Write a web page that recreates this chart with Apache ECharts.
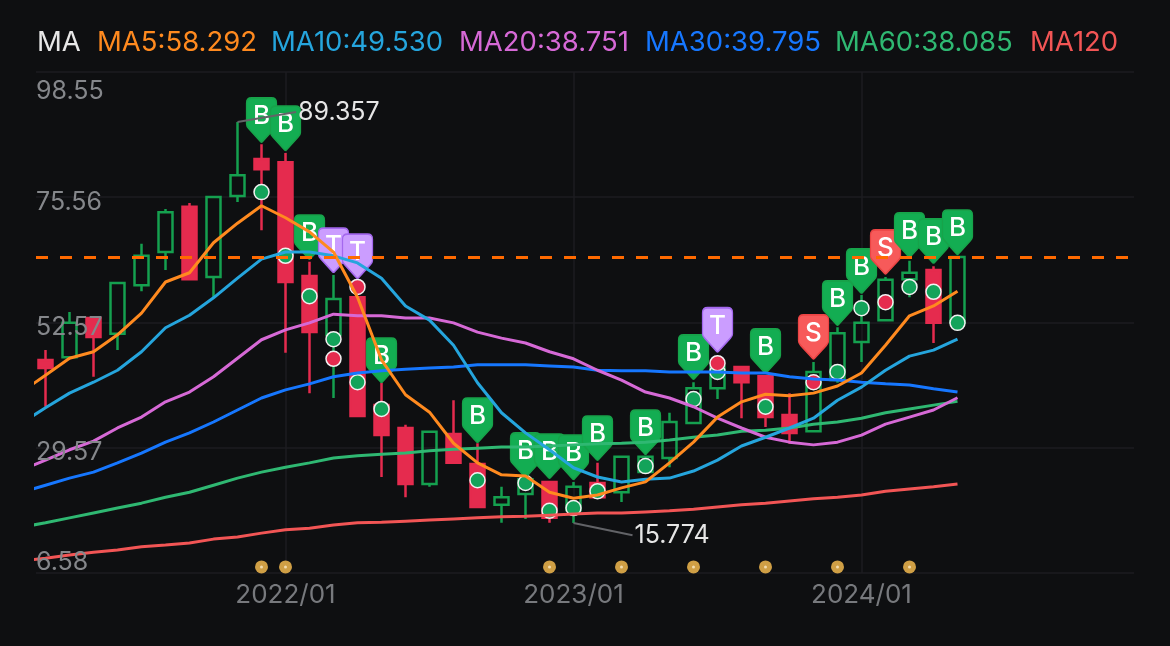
<!DOCTYPE html>
<html>
<head>
<meta charset="utf-8">
<style>
html, body { margin: 0; padding: 0; background: #0e0f11; }
#main { width: 1170px; height: 646px; }
</style>
<script src="https://cdn.jsdelivr.net/npm/echarts@6/dist/echarts.min.js"></script>
</head>
<body>
<div id="main"></div>
<script>
var months = ['2021/02','2021/03','2021/04','2021/05','2021/06','2021/07','2021/08','2021/09','2021/10','2021/11','2021/12',
	'2022/01','2022/02','2022/03','2022/04','2022/05','2022/06','2022/07','2022/08','2022/09','2022/10','2022/11','2022/12',
	'2023/01','2023/02','2023/03','2023/04','2023/05','2023/06','2023/07','2023/08','2023/09','2023/10','2023/11','2023/12',
	'2024/01','2024/02','2024/03','2024/04','2024/05'];
var xTicks = ['2022/01', '2023/01', '2024/01'];
var yTicks = [6.58, 29.57, 52.57, 75.56, 98.55];

// candles start at 2021/03
var opens = [45.7,46.2,53.4,50.5,59.4,65.5,73.8,60.9,75.8,82.6,82.0,61.1,50.3,57.2,37.4,33.2,22.9,32.1,26.6,19.1,21.1,23.3,18.1,23.1,21.4,25.1,27.7,34.1,40.5,44.4,42.7,35.6,32.6,42.0,49.0,53.0,60.5,62.2,52.5];
var closes = [44.2,52.5,49.9,59.8,64.8,72.8,60.5,75.6,79.6,80.7,60.0,50.8,56.9,35.4,31.9,22.9,32.5,26.8,18.7,20.5,23.8,16.7,22.4,20.5,27.9,27.9,34.3,40.5,44.4,41.6,35.2,32.3,43.5,50.6,52.5,60.4,61.7,52.5,64.6];
var lows = [37.1,46.0,42.6,47.5,58.3,62.2,60.5,57.1,74.7,69.5,47.0,39.6,38.7,35.4,24.2,20.5,22.4,26.8,18.7,15.8,16.5,15.8,15.774,20.5,19.6,25.1,26.0,34.1,38.5,35.0,33.4,30.3,32.6,41.5,45.3,53.0,57.2,48.8,52.5];
var highs = [47.5,54.5,53.4,60.0,67.0,73.4,74.5,75.6,89.357,85.3,83.7,63.7,61.3,57.2,41.5,33.8,32.5,38.3,30.4,22.4,24.2,23.3,23.3,26.8,27.9,27.9,36.0,41.6,44.4,44.6,42.7,39.6,45.3,51.7,57.6,60.9,63.9,62.9,64.6];

var ma5 = [39.8,42.9,46.0,47.2,50.3,54.3,60.0,61.7,67.2,70.8,74.0,71.8,69.2,65.5,57.2,45.7,39.3,36.1,30.4,26.8,24.6,24.4,21.4,20.3,20.9,22.2,23.3,26.8,30.6,35.2,38.0,39.4,39.1,39.6,40.9,43.3,48.4,53.8,55.6,58.292];
var ma10 = [34.1,36.9,39.6,41.6,43.8,47.2,51.6,53.9,57.1,60.7,64.2,65.5,65.5,64.8,63.5,60.7,55.6,53.0,48.4,41.5,36.0,32.3,29.2,25.9,24.2,23.3,23.8,24.0,25.3,27.3,29.9,31.5,33.2,35.0,38.3,40.7,43.8,46.4,47.5,49.53];
var ma20 = [25.5,27.3,29.2,30.8,33.2,35.2,38.0,39.8,42.6,46.0,49.4,51.2,52.5,54.1,53.8,53.8,53.4,53.4,52.5,50.8,49.7,48.8,47.2,45.9,43.8,42.0,39.8,38.7,37.1,35.0,33.2,31.5,30.6,30.1,30.6,31.9,33.9,35.2,36.5,38.751];
var ma30 = [21.4,22.7,24.0,25.1,26.8,28.6,30.6,32.3,34.3,36.5,38.7,40.2,41.3,42.6,43.3,43.7,44.0,44.2,44.4,44.8,44.8,44.8,44.6,44.4,43.8,43.7,43.7,43.5,43.5,43.5,43.3,43.3,42.6,42.2,42.0,41.6,41.3,41.1,40.4,39.795];
var ma60 = [15.0,15.8,16.7,17.6,18.5,19.4,20.5,21.4,22.7,24.0,25.1,26.0,26.8,27.7,28.1,28.4,28.6,29.0,29.3,29.5,29.7,29.7,29.9,30.1,30.3,30.4,30.6,31.0,31.5,31.9,32.6,32.8,33.2,33.9,34.3,35.0,36.0,36.7,37.4,38.085];
var ma120 = [8.8,9.3,9.9,10.4,10.8,11.4,11.7,12.1,12.8,13.2,13.9,14.5,14.8,15.4,15.8,15.9,16.1,16.3,16.5,16.7,16.9,17.0,17.2,17.4,17.6,17.6,17.8,18.0,18.3,18.7,19.1,19.4,19.8,20.2,20.5,20.9,21.6,22.0,22.4,22.9];

var legendNames = ['MA', 'MA5:58.292', 'MA10:49.530', 'MA20:38.751', 'MA30:39.795', 'MA60:38.085', 'MA120'];
var lastPrice = 64.6;

var pinMonths = ['2021/12','2022/01','2022/02','2022/03','2022/04','2022/05','2022/09','2022/11','2022/12','2023/01','2023/02','2023/04','2023/06','2023/07','2023/09','2023/11','2023/12','2024/01','2024/02','2024/03','2024/04','2024/05'];
var pinLetters = ['B','B','B','T','T','B','B','B','B','B','B','B','B','T','B','S','B','B','S','B','B','B'];
var pinValues = [85.7,84.2,64.2,61.8,60.7,41.6,30.6,24.2,24.0,23.8,27.3,28.4,42.2,47.2,43.3,45.9,52.1,58.0,61.5,64.6,63.5,65.1];

var dotMonths = ['2021/12','2022/01','2022/02','2022/03','2022/03','2022/04','2022/04','2022/05','2022/09','2022/11','2022/12','2023/01','2023/02','2023/04','2023/06','2023/07','2023/07','2023/09','2023/11','2023/12','2024/01','2024/02','2024/03','2024/04','2024/05'];
var dotValues = [76.5,64.8,57.4,49.5,45.9,59.1,41.6,36.7,23.6,23.1,18.0,18.5,21.6,26.2,38.5,43.5,45.1,37.1,41.6,43.5,55.2,56.3,59.1,58.2,52.5];
var dotSides = ['b','b','b','b','s','s','b','b','b','b','b','b','b','b','b','b','s','b','s','b','b','s','b','b','b'];

var coinMonths = ['2021/12','2022/01','2022/12','2023/03','2023/06','2023/09','2023/12','2024/03'];
var coinValue = 7.7;

var UP = '#15a04f', DOWN = '#e52b4e';
var pinColors = {
	B : { fill : '#13ad52', border : '#17a34a' },
	T : { fill : '#cb9dff', border : '#a468ee' },
	S : { fill : '#f75a5a', border : '#ec4444' }
};
var lineColors = ['#ff8a1f', '#25a5dd', '#d669d6', '#1677ff', '#2fb872', '#f25555'];
var legendColors = ['#e8e8e8', '#ff8a1f', '#25a5dd', '#d669d6', '#1677ff', '#2fb872', '#f25555'];
var legendLefts = [37, 97, 271, 459, 645, 835, 1030];
var PIN = 'path://M5 0H25Q30 0 30 5V26Q30 28 28 30L16 43Q15 44 14 43L2 30Q0 28 0 26V5Q0 0 5 0Z';

function xOf(m) {
	return months.indexOf(m);
}

function maSeries(name, values, color) {
	return {
		name : name,
		type : 'line',
		symbol : 'none',
		silent : true,
		lineStyle : { width : 3, color : color },
		data : values.map(function(v, i) {
			return [i, v];
		})
	};
}

function calloutSeries(from, to, text) {
	return {
		type : 'line',
		symbol : 'none',
		silent : true,
		lineStyle : { width : 2, color : '#626367' },
		endLabel : {
			show : true,
			formatter : text,
			color : '#e6e6e6',
			fontFamily : 'Inter',
			fontSize : 25,
			distance : 2
		},
		data : [from, to]
	};
}

function yLabelStyle(padding) {
	return { color : '#85878b', fontFamily : 'Inter', fontSize : 25, padding : padding };
}

var candles = opens.map(function(o, i) {
	return [i + 1, o, closes[i], lows[i], highs[i]];
});

var series = [{
	type : 'candlestick',
	barWidth : 15,
	encode : { x : 0, y : [1, 2, 3, 4] },
	itemStyle : {
		color : 'transparent',
		color0 : DOWN,
		borderColor : UP,
		borderColor0 : DOWN,
		borderWidth : 2.5
	},
	markLine : {
		silent : true,
		symbol : 'none',
		animation : false,
		label : { show : false },
		lineStyle : { color : '#ff6a00', width : 3, type : [12, 12] },
		data : [{ yAxis : lastPrice }]
	},
	data : candles
}];

var maNames = ['MA5', 'MA10', 'MA20', 'MA30', 'MA60', 'MA120'];
var maValues = [ma5, ma10, ma20, ma30, ma60, ma120];
for (var k = maNames.length - 1; k >= 0; k--) {
	series.push(maSeries(maNames[k], maValues[k], lineColors[k]));
}

series.push(calloutSeries([xOf('2021/11'), 89.357], [11.44, 91.2], '89.357'));
series.push(calloutSeries([xOf('2023/01'), 15.774], [xOf('2023/03') + 0.46, 13.5], '15.774'));

series.push({
	type : 'scatter',
	symbol : 'circle',
	symbolSize : 13,
	silent : true,
	itemStyle : { color : '#cf9f45', opacity : 1 },
	data : coinMonths.map(function(m) {
		return [xOf(m), coinValue];
	})
});
series.push({
	type : 'scatter',
	symbol : 'circle',
	symbolSize : 3,
	silent : true,
	itemStyle : { color : '#f2dcae', opacity : 1 },
	data : coinMonths.map(function(m) {
		return [xOf(m), coinValue];
	})
});

series.push({
	type : 'scatter',
	symbol : 'circle',
	symbolSize : 15,
	silent : true,
	data : dotMonths.map(function(m, i) {
		return {
			value : [xOf(m), dotValues[i]],
			itemStyle : {
				color : dotSides[i] == 'b' ? '#13a35a' : '#e52b4e',
				borderColor : '#f2f2f2',
				borderWidth : 1.5,
				opacity : 1
			}
		};
	})
});

series.push({
	type : 'scatter',
	symbol : PIN,
	symbolSize : [30, 44],
	symbolOffset : [0, -22],
	silent : true,
	label : {
		show : true,
		position : 'inside',
		offset : [0, -4],
		color : '#ffffff',
		fontFamily : 'Inter',
		fontSize : 26,
		fontWeight : 500
	},
	data : pinMonths.map(function(m, i) {
		var c = pinColors[pinLetters[i]];
		return {
			value : [xOf(m), pinValues[i]],
			label : { formatter : pinLetters[i] },
			itemStyle : { color : c.fill, borderColor : c.border, borderWidth : 1.5, opacity : 1 }
		};
	})
});

var myChart = echarts.init(document.getElementById('main'));
var option = {
	backgroundColor : '#0e0f11',
	animation : false,
	title : legendNames.map(function(n, i) {
		return {
			text : n,
			left : legendLefts[i],
			top : 29,
			padding : 0,
			textStyle : { color : legendColors[i], fontFamily : 'Inter', fontSize : 27.5, fontWeight : 'normal' }
		};
	}),
	grid : { left : 36, right : 36, top : 72, bottom : 73 },
	xAxis : {
		type : 'value',
		min : 0.604,
		max : 46.354,
		axisLine : { show : false },
		axisTick : {
			show : false,
			customValues : xTicks.map(xOf)
		},
		axisLabel : {
			color : '#77797d',
			fontFamily : 'Inter',
			fontSize : 26,
			margin : 9,
			customValues : xTicks.map(xOf),
			formatter : function(v) {
				return months[v];
			}
		},
		splitLine : { show : true, lineStyle : { color : '#1c1d20', width : 1.5 } }
	},
	yAxis : [{
		type : 'value',
		min : yTicks[0],
		max : yTicks[yTicks.length - 1],
		axisLine : { show : false },
		axisTick : {
			show : false,
			customValues : yTicks
		},
		axisLabel : { show : false },
		splitLine : { show : true, lineStyle : { color : '#1c1d20', width : 1.5 } }
	}, {
		// second axis only to put the tick labels on top of the candles
		type : 'value',
		position : 'left',
		z : 5,
		min : yTicks[0],
		max : yTicks[yTicks.length - 1],
		axisLine : { show : false },
		axisTick : {
			show : false,
			customValues : yTicks
		},
		axisLabel : {
			inside : true,
			verticalAlign : 'middle',
			margin : 0,
			customValues : yTicks,
			formatter : function(v) {
				var name = v == yTicks[0] ? 'low' : (v == yTicks[yTicks.length - 1] ? 'high' : 'mid');
				return '{' + name + '|' + v.toFixed(2) + '}';
			},
			rich : {
				low : yLabelStyle([0, 0, 22, 0]),
				mid : yLabelStyle([10, 0, 0, 0]),
				high : yLabelStyle([38, 0, 0, 0])
			}
		},
		splitLine : { show : false }
	}],
	series : series
};
myChart.setOption(option);
</script>
</body>
</html>
